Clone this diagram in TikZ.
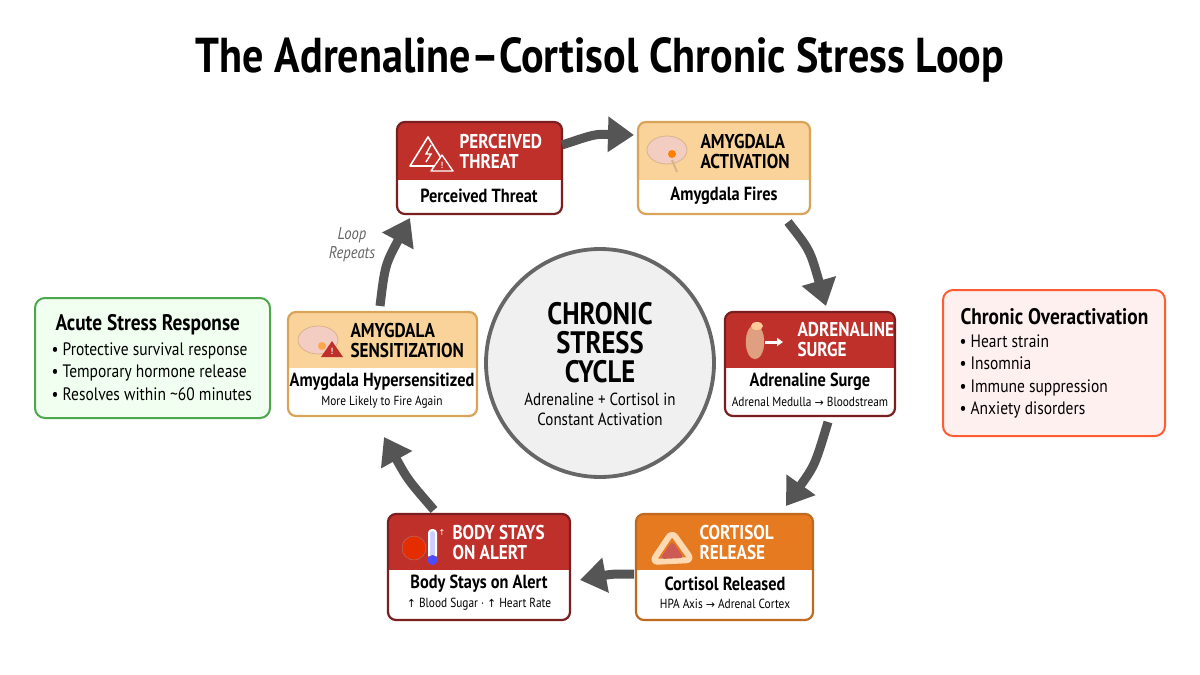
\documentclass[tikz,border=0pt]{standalone}
\usepackage{fontspec}
\setmainfont{PT Sans}[FakeStretch=0.86]
\newfontfamily\symf{DejaVu Sans}
\usetikzlibrary{arrows.meta,calc,shapes.geometric}
\definecolor{dred}{HTML}{C0302B}
\definecolor{bred}{HTML}{7A1F1F}
\definecolor{lor}{HTML}{FAD39A}
\definecolor{bor}{HTML}{D9A35A}
\definecolor{orng}{HTML}{E57A20}
\definecolor{boro}{HTML}{C06A20}
\definecolor{arr}{HTML}{555555}
\tikzset{
 card/.style={rounded corners=8pt,line width=2.2pt},
 htxt/.style={font=\bfseries\fontsize{20}{20}\selectfont,align=left,anchor=west},
 mtxt/.style={font=\bfseries\fontsize{19}{18}\selectfont},
 stxt/.style={font=\fontsize{13.2}{15}\selectfont},
 flow/.style={line width=9pt,draw=arr,-{Triangle[length=26pt,width=34pt]}},
}
\newcommand\card[9]{% name,x1,y1,x2,y2,hy,headcol,bordercol,textcol
 \begin{scope}
 \clip[rounded corners=8pt] (#2,#3) rectangle (#4,#5);
 \fill[white] (#2,#3) rectangle (#4,#5);
 \fill[#7] (#2,#3) rectangle (#4,#6);
 \end{scope}
 \draw[card,draw=#8] (#2,#3) rectangle (#4,#5);
 \coordinate (#1) at ($(#2,#3)!0.5!(#4,#5)$);
}
\begin{document}
\begin{tikzpicture}[x=1pt,y=-1pt]
\useasboundingbox (0,0) rectangle (1200,675);
\fill[white] (0,0) rectangle (1200,675);
\node[font=\bfseries\fontsize{49}{49}\selectfont] (title) at (600,60) {The Adrenaline–Cortisol Chronic Stress Loop};

% center
\node[circle,minimum size=228pt,fill=gray!12,draw=arr!90,line width=3.8pt] (ctr) at (600,363) {};
\node[font=\bfseries\fontsize{31}{29}\selectfont,align=center] (ct) at (600,343) {CHRONIC\\STRESS\\CYCLE};
\node[font=\fontsize{17.5}{20}\selectfont,align=center] (cs) at (600,409) {Adrenaline + Cortisol in\\Constant Activation};

% cards
\card{c1}{397}{122}{562}{214}{180}{dred}{bred}{}
\card{c2}{638}{122}{810}{214}{180}{lor}{bor}{}
\card{c3}{725}{312}{895}{416}{368}{dred}{bred}{}
\card{c4}{636}{514}{813}{620}{570}{orng}{boro}{}
\card{c5}{388}{514}{570}{620}{570}{dred}{bred}{}
\card{c6}{288}{312}{477}{416}{368}{lor}{bor}{}

% headers
\node[htxt,white] (h1) at (456,151) {PERCEIVED\\THREAT};
\node[htxt,black] (h2) at (697,151) {AMYGDALA\\ACTIVATION};
\node[htxt,white] (h3) at (794,340) {ADRENALINE\\SURGE};
\node[htxt,white] (h4) at (696,542) {CORTISOL\\RELEASE};
\node[htxt,white] (h5) at (449,542) {BODY STAYS\\ON ALERT};
\node[htxt,black] (h6) at (347,340) {AMYGDALA\\SENSITIZATION};

% bodies
\node[mtxt] (b1) at (479,196) {Perceived Threat};
\node[mtxt] (b2) at (724,196) {Amygdala Fires};
\node[mtxt] (b3) at (810,382) {Adrenaline Surge};
\node[stxt] (s3) at (810,402) {Adrenal Medulla {\symf\fontsize{11}{11}\selectfont→} Bloodstream};
\node[mtxt] (b4) at (725,584) {Cortisol Released};
\node[stxt] (s4) at (725,604) {HPA Axis {\symf\fontsize{11}{11}\selectfont→} Adrenal Cortex};
\node[mtxt] (b5) at (479,584) {Body Stays on Alert};
\node[stxt] (s5) at (479,604) {{\symf\fontsize{11}{11}\selectfont↑} Blood Sugar · {\symf\fontsize{11}{11}\selectfont↑} Heart Rate};
\node[mtxt] (b6) at (382,382) {Amygdala Hypersensitized};
\node[stxt] (s6) at (382,402) {More Likely to Fire Again};

% icons
\draw[white,line width=1.6pt,line join=round] (428,137)--(446,166)--(410,166)--cycle;
\draw[white,line width=1.4pt] (431,145)--(426,154)--(431,154)--(426,162);
\draw[white,line width=1.4pt,fill=dred,line join=round] (442,155)--(453,171)--(431,171)--cycle;
\node[white,font=\bfseries\fontsize{9}{9}\selectfont] (i1) at (442,165) {!};
\fill[pink!70!brown!60,draw=brown!60,line width=0.8pt] (667,150) ellipse (20pt and 14pt);
\draw[brown!60,line width=2pt] (672,160)--(677,172);
\fill[orange] (672,154) circle (4pt);
\fill[pink!70!brown!60,draw=brown!60,line width=0.8pt] (318,340) ellipse (20pt and 14pt);
\fill[orange!70] (322,346) circle (4pt);
\fill[dred] (332,341)--(343,357)--(321,357)--cycle;
\node[white,font=\bfseries\fontsize{9}{9}\selectfont] (i6) at (332,351) {!};
\fill[brown!50!pink,draw=brown!70] (755,342) ellipse (9pt and 17pt);
\fill[orange!40] (757,326) ellipse (6pt and 4pt);
\draw[white,line width=3pt,-{Triangle[length=6pt,width=8pt]}] (765,342)--(783,342);
\draw[orange!30,line width=6pt,line join=round,rounded corners=6pt] (652,562)--(672,532)--(692,560)--cycle;
\fill[dred!80,rounded corners=4pt] (660,559)--(672,541)--(684,558)--cycle;
\fill[red!60!orange!90!black,draw=bred!60] (414,548) circle (12pt);
\draw[white,line width=2pt,rounded corners=3pt,fill=blue!20] (429,530) rectangle (436,558);
\fill[blue!70] (432.5,560) circle (5pt);
\node[white,font=\symf\fontsize{8}{8}\selectfont] (i5) at (442,533) {↑};

% arrows
\draw[flow] (562,145) .. controls (595,134) .. (634,135);
\draw[flow] (788,222) .. controls (810,250) .. (826,306);
\draw[flow] (828,422) .. controls (815,465) .. (786,506);
\draw[flow] (634,574) .. controls (612,574) .. (580,580);
\draw[flow] (434,510) .. controls (408,480) .. (384,437);
\draw[flow] (380,306) .. controls (385,265) .. (410,218);
\node[font=\itshape\fontsize{17}{19}\selectfont,text=gray!80!black,align=center] (lr) at (352,245) {Loop\\Repeats};

% side boxes
\draw[rounded corners=10pt,line width=2pt,draw=green!50!black!70,fill=green!6] (35,298) rectangle (270,418);
\node[font=\bfseries\fontsize{22.5}{22}\selectfont,anchor=west] (at) at (52,325) {Acute Stress Response};
\node[font=\fontsize{18}{22.5}\selectfont,anchor=north west,align=left] (al) at (48,339) {• Protective survival response\\• Temporary hormone release\\• Resolves within \textasciitilde60 minutes};
\draw[rounded corners=10pt,line width=2pt,draw=red!60!orange!80,fill=red!6] (943,290) rectangle (1165,436);
\node[font=\bfseries\fontsize{22.5}{22}\selectfont,anchor=west] (ct2) at (957,317) {Chronic Overactivation};
\node[font=\fontsize{18}{22.5}\selectfont,anchor=north west,align=left] (cl) at (956,331) {• Heart strain\\• Insomnia\\• Immune suppression\\• Anxiety disorders};
\end{tikzpicture}
\end{document}
